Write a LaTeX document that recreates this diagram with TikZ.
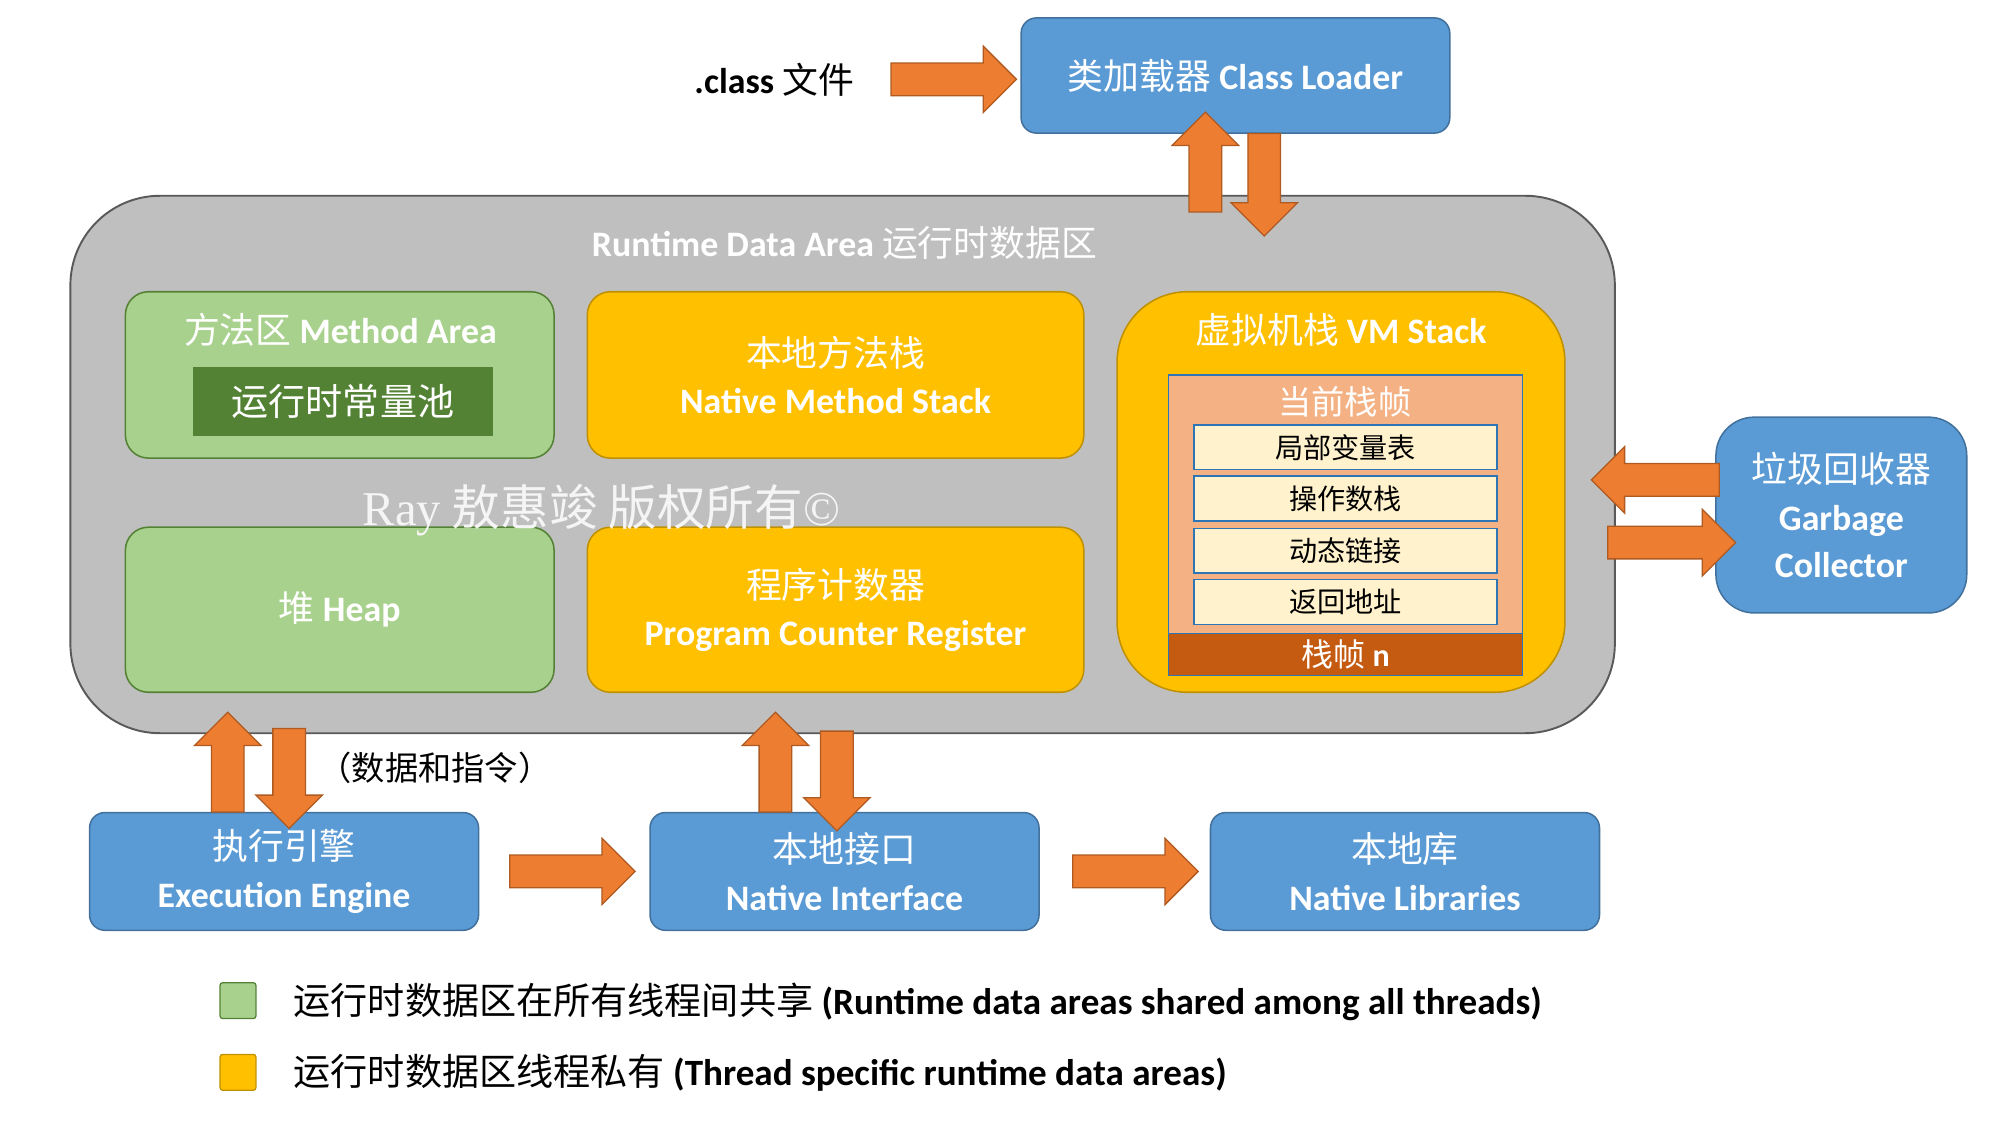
\documentclass[tikz,border=0pt]{standalone}
\usepackage{fontspec}
\setmainfont{Carlito}
\newfontfamily\cjk{Noto Sans CJK SC}
\newfontfamily\wmserif{Liberation Serif}
\usetikzlibrary{shapes.arrows}
\definecolor{blu}{HTML}{5B9BD5}\definecolor{bluD}{HTML}{41719C}
\definecolor{grn}{HTML}{A9D18E}\definecolor{grnD}{HTML}{548235}
\definecolor{yel}{HTML}{FFC000}\definecolor{yelD}{HTML}{BF9000}
\definecolor{org}{HTML}{ED7D31}\definecolor{orgD}{HTML}{AE5A21}
\definecolor{sal}{HTML}{F4B183}\definecolor{cell}{HTML}{FFF2CC}
\definecolor{brn}{HTML}{C55A11}\definecolor{cellD}{HTML}{2E75B6}
\begin{document}
\begin{tikzpicture}[x=1pt,y=-1pt,
  box/.style={draw, line width=1.2pt, text=white, align=center, font=\fontsize{28}{37}\selectfont\bfseries},
  bluebox/.style={box, fill=blu, draw=bluD, rounded corners=12pt},
  grnbox/.style={box, fill=grn, draw=grnD, rounded corners=18pt},
  yelbox/.style={box, fill=yel, draw=yelD, rounded corners=18pt},
  fat/.style={single arrow, fill=org, draw=orgD, line width=1pt, minimum width=52pt, single arrow head extend=13pt, single arrow head indent=0pt, inner xsep=0pt, inner ysep=12pt},
  cellb/.style={draw=cellD, line width=1.2pt, fill=cell, font=\fontsize{22}{26}\selectfont\cjk},
  lbl/.style={font=\fontsize{28}{32}\selectfont\bfseries}]
\useasboundingbox (0,0) rectangle (1563,883);
% class file and loader
\node[lbl, text=black] (cls) at (605,62) {.class {\cjk\mdseries 文件}};
\node[bluebox, minimum width=335pt, minimum height=90pt] (loader) at (965.5,59) {{\cjk\mdseries 类加载器} Class Loader};
\node[fat, minimum height=98pt] (a1) at (739,62) {};
% runtime area
\node[draw=gray!130, fill=gray!50, line width=1.5pt, rounded corners=70pt, minimum width=1207pt, minimum height=420pt] (rda) at (658.5,363) {};
\node[lbl, text=white] (rdat) at (660,190) {Runtime Data Area {\cjk\mdseries 运行时数据区}};
\node[fat, minimum height=78pt, rotate=90] (a2) at (942,133) {};
\node[fat, minimum height=80pt, rotate=-90] (a3) at (988,138) {};
% method area
\node[grnbox, minimum width=335pt, minimum height=130pt] (ma) at (265.5,293) {};
\node[lbl, text=white] (mat) at (266,258) {{\cjk\mdseries 方法区} Method Area};
\node[fill=grnD, minimum width=234pt, minimum height=54pt, text=white, font=\fontsize{29}{30}\selectfont\cjk] (pool) at (268,314) {运行时常量池};
% native method stack
\node[yelbox, minimum width=388pt, minimum height=130pt] (nms) at (653,293) {{\cjk\mdseries 本地方法栈}\\Native Method Stack};
% heap
\node[grnbox, minimum width=335pt, minimum height=129pt] (heap) at (265.5,476.5) {{\cjk\mdseries 堆} Heap};
% pc
\node[yelbox, minimum width=388pt, minimum height=129pt] (pc) at (653,476.5) {{\cjk\mdseries 程序计数器}\\Program Counter Register};
% vm stack
\node[yelbox, rounded corners=55pt, minimum width=350pt, minimum height=313pt] (vms) at (1048,384.5) {};
\node[lbl, text=white] (vmst) at (1048,258) {{\cjk\mdseries 虚拟机栈} VM Stack};
\node[fill=sal, draw=cellD, line width=1pt, minimum width=277pt, minimum height=235pt] (frame) at (1051.5,410.5) {};
\node[text=white, font=\fontsize{26}{30}\selectfont\cjk] (ft) at (1051,314) {当前栈帧};
\node[cellb, minimum width=237pt, minimum height=35pt] (c1) at (1051.5,349.5) {局部变量表};
\node[cellb, minimum width=237pt, minimum height=35pt] (c2) at (1051.5,389.5) {操作数栈};
\node[cellb, minimum width=237pt, minimum height=35pt] (c3) at (1051.5,430.5) {动态链接};
\node[cellb, minimum width=237pt, minimum height=35pt] (c4) at (1051.5,470.5) {返回地址};
\node[fill=brn, draw=cellD, line width=1pt, minimum width=277pt, minimum height=33pt, text=white, font=\fontsize{25}{26}\selectfont\bfseries] (fn) at (1051.5,511.5) {{\cjk\mdseries 栈帧} n};
% watermark
\node[text=white!92!gray, font=\fontsize{38}{40}\selectfont] (wm) at (470,399) {{\wmserif Ray} {\cjk\mdseries 敖惠竣 版权所有}{\wmserif ©}};
% GC
\node[bluebox, rounded corners=30pt, minimum width=196pt, minimum height=153pt] (gc) at (1439,402.5) {{\cjk\mdseries 垃圾回收器}\\Garbage\\Collector};
\node[fat, minimum height=100pt, rotate=180] (a4) at (1300,375) {};
\node[fat, minimum height=100pt] (a5) at (1300,424) {};
% bottom
\node[bluebox, minimum width=304pt, minimum height=92pt] (ee) at (222,681) {{\cjk\mdseries 执行引擎}\\Execution Engine};
\node[bluebox, minimum width=304pt, minimum height=92pt] (ni) at (660,681) {{\cjk\mdseries 本地接口}\\Native Interface};
\node[bluebox, minimum width=304pt, minimum height=92pt] (nl) at (1098,681) {{\cjk\mdseries 本地库}\\Native Libraries};
\node[fat, minimum height=78pt, rotate=90] (a6) at (178,602) {};
\node[fat, minimum height=78pt, rotate=-90] (a7) at (226,602) {};
\node[font=\fontsize{26}{28}\selectfont\cjk] (di) at (340,600) {（数据和指令）};
\node[fat, minimum height=78pt, rotate=90] (a8) at (606,602) {};
\node[fat, minimum height=78pt, rotate=-90] (a9) at (654,604) {};
\node[fat, minimum height=98pt] (a10) at (441,681) {};
\node[fat, minimum height=98pt] (a11) at (881,681) {};
% legend
\node[fill=grn, draw=grnD, line width=1pt, rounded corners=2pt, minimum size=28pt] (lg1) at (186,782) {};
\node[fill=yel, draw=yelD, line width=1pt, rounded corners=2pt, minimum size=28pt] (lg2) at (186,838) {};
\node[anchor=west, font=\fontsize{29}{32}\selectfont\bfseries, text=black] (lt1) at (226,783) {{\cjk\mdseries 运行时数据区在所有线程间共享} (Runtime data areas shared among all threads)};
\node[anchor=west, font=\fontsize{29}{32}\selectfont\bfseries, text=black] (lt2) at (226,838) {{\cjk\mdseries 运行时数据区线程私有} (Thread specific runtime data areas)};
\end{tikzpicture}
\end{document}
